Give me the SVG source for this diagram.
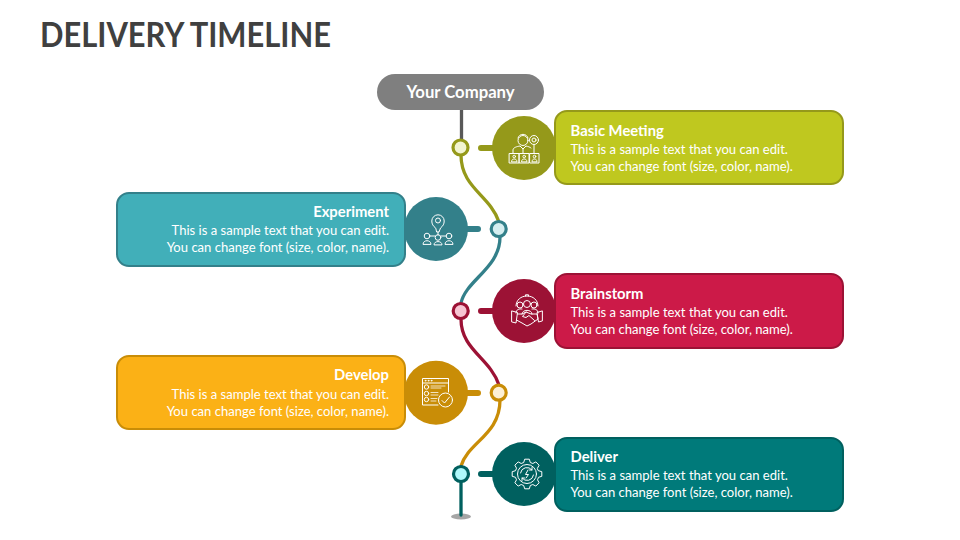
<svg xmlns="http://www.w3.org/2000/svg" width="960" height="540" viewBox="0 0 960 540">
<style>
text{font-family:"Lato","Open Sans","Liberation Sans",sans-serif;fill:#fff}
.h{font-size:14.800px;font-weight:700}
.b{font-size:13.050px}
.r{text-anchor:end}
.card{stroke-width:2}
.ic{fill:none;stroke:#fff;stroke-width:1;stroke-linecap:round;stroke-linejoin:round}
.dot{stroke-width:3.200}
.ln{fill:none;stroke-width:3.300;stroke-linecap:round}
</style>
<rect width="960" height="540" fill="#fff"/>
<text x="40" y="46.500" font-size="34" font-weight="700" textLength="291" lengthAdjust="spacingAndGlyphs" style="fill:#404040">DELIVERY TIMELINE</text>
<g id="connectors">
<path class="ln" stroke="#595959" d="M461.500 110V140"/>
<path class="ln" stroke="#95991a" d="M461 155C461 188 490 195 499 222"/>
<path class="ln" stroke="#33808a" d="M500 237C500 268 466 280 461 303"/>
<path class="ln" stroke="#9c1235" d="M461 319C461 350 490 358 499 385"/>
<path class="ln" stroke="#c98d07" d="M500 400C500 435 468 442 461 466"/>
<ellipse cx="461" cy="516.500" rx="10" ry="3" fill="#a6a6a6"/>
<path class="ln" stroke="#00605f" d="M461 482V515"/>
</g>
<g id="your-company">
<rect x="377" y="74" width="167" height="36" rx="18" fill="#7f7f7f"/>
<text x="460.500" y="97.500" font-size="16.700" font-weight="700" text-anchor="middle">Your Company</text>
</g>
<g id="basic-meeting">
<circle class="dot" cx="460.500" cy="147.500" r="7.500" fill="#f2f4d0" stroke="#95991a"/>
<path fill="#95991a" d="M481 145H494C496 145 497 144 498 142.500L498 153.500C497 152 496 151 494 151H481A3 3 0 0 1 481 145Z"/>
<circle cx="524" cy="148" r="32" fill="#95991a"/>
<rect class="card" x="555" y="111" width="288" height="73" rx="12" fill="#bfc81f" stroke="#95991a"/>
<g class="ic">
<circle cx="523" cy="140.500" r="5"/><path d="M518 138C519 133 527 133 528 138"/><path d="M513 153V150C513 147.500 517 146.500 520 146L523 149L526 146C528 146.500 530 147 531 148"/><path d="M523 149V153"/>
<circle cx="534" cy="140" r="4.500"/><circle cx="534" cy="140" r="2"/><path d="M534 145V153"/>
<rect x="509.500" y="153.500" width="9.500" height="9.500"/><rect x="519.500" y="153.500" width="9.500" height="9.500"/><rect x="530" y="153.500" width="9" height="9.500"/>
<circle cx="514.200" cy="156.500" r="1.300"/><circle cx="524.200" cy="156.500" r="1.300"/><circle cx="534.500" cy="156.500" r="1.300"/>
<path d="M511.500 161.500C511.500 158 517 158 517 161.500ZM521.500 161.500C521.500 158 527 158 527 161.500ZM532 161.500C532 158 537 158 537 161.500Z"/>
</g>
<text class="h" x="570.500" y="136">Basic Meeting</text>
<text class="b" x="570.500" y="154">This is a sample text that you can edit.</text>
<text class="b" x="570.500" y="171">You can change font (size, color, name).</text>
</g>
<g id="experiment">
<circle class="dot" cx="498.700" cy="229" r="7.500" fill="#d5eef0" stroke="#33808a"/>
<path fill="#33808a" d="M478 226H465C463 226 462 225 461 223.500L461 234.500C462 233 463 232 465 232H478A3 3 0 0 0 478 226Z"/>
<circle cx="436" cy="229" r="32" fill="#33808a"/>
<rect class="card" x="117" y="193" width="288" height="73" rx="12" fill="#41afb9" stroke="#33808a"/>
<g class="ic">
<path d="M435.500 228C433 226 431.800 224 431.800 221A6.200 6.200 0 0 1 444.200 221C444.200 224 443 226 440.500 228L439 232H437Z"/>
<circle cx="438" cy="220.500" r="2.500"/><path d="M438 232V235"/>
<circle cx="427" cy="236" r="2.800"/><circle cx="438" cy="237.500" r="2.800"/><circle cx="449" cy="236" r="2.800"/>
<path d="M423 244C423 239.500 431 239.500 431 244ZM434 244.500C434 240.500 442 240.500 442 244.500ZM445 244C445 239.500 453 239.500 453 244Z"/>
<path d="M430 236H435M441 236H446"/>
</g>
<text class="h r" x="389" y="217">Experiment</text>
<text class="b r" x="389" y="235">This is a sample text that you can edit.</text>
<text class="b r" x="389" y="252">You can change font (size, color, name).</text>
</g>
<g id="brainstorm">
<circle class="dot" cx="460.700" cy="311" r="7.500" fill="#f7c5d3" stroke="#9c1235"/>
<path fill="#9c1235" d="M481 308H494C496 308 497 307 498 305.500L498 316.500C497 315 496 314 494 314H481A3 3 0 0 1 481 308Z"/>
<circle cx="524" cy="311" r="32" fill="#9c1235"/>
<rect class="card" x="555" y="274" width="288" height="74" rx="12" fill="#cc1a48" stroke="#9c1235"/>
<g class="ic">
<path d="M516 306C516 300 521 296 527 296C533 296 538 300 538 306"/><path d="M525.500 296V294.800H528.500V296"/>
<circle cx="527" cy="304" r="3.500"/><circle cx="520" cy="305" r="3"/><circle cx="534" cy="305" r="3"/>
<path d="M522 314C522 309 532 309 532 314M516 313C516 309.500 519 308.500 522 309M538 313C538 309.500 535 308.500 532 309"/>
<path d="M512 311L517.500 312.500L516 323L512 322ZM542 311L537 312.500L538.500 322L542 321Z"/>
<path d="M517.500 314H522L526 312L531 314H537L538 319L531 324L527 326L522 323L516.500 320"/>
<path d="M526 312L522.500 316.500L526 317.500L529 315.500L534.500 320.500"/>
</g>
<text class="h" x="570.500" y="299">Brainstorm</text>
<text class="b" x="570.500" y="317">This is a sample text that you can edit.</text>
<text class="b" x="570.500" y="334">You can change font (size, color, name).</text>
</g>
<g id="develop">
<circle class="dot" cx="498.700" cy="392.700" r="7.500" fill="#fdf0d5" stroke="#c98d07"/>
<path fill="#c98d07" d="M478 390H465C463 390 462 389 461 387.500L461 398.500C462 397 463 396 465 396H478A3 3 0 0 0 478 390Z"/>
<circle cx="436" cy="392.700" r="32" fill="#c98d07"/>
<rect class="card" x="117" y="356" width="288" height="73" rx="12" fill="#fbb116" stroke="#c98d07"/>
<g class="ic">
<path d="M438 405H422.500V378.500H448.500V392"/><path d="M422.500 383H448.500"/>
<circle cx="425.500" cy="380.700" r=".4"/><circle cx="428.500" cy="380.700" r=".4"/><circle cx="431.500" cy="380.700" r=".4"/>
<circle cx="426.500" cy="387" r="2.200"/><circle cx="426.500" cy="393.500" r="2.200"/><circle cx="426.500" cy="399.500" r="2.200"/>
<path d="M431 386H445M431 388H441M431 392.500H438M431 395H438M431 398.500H437M431 401H436" opacity=".75"/>
<circle cx="445.500" cy="400" r="7"/><path d="M442 400.500L444.500 403L449.500 397"/>
</g>
<text class="h r" x="389" y="380">Develop</text>
<text class="b r" x="389" y="399">This is a sample text that you can edit.</text>
<text class="b r" x="389" y="416">You can change font (size, color, name).</text>
</g>
<g id="deliver">
<circle class="dot" cx="461" cy="474" r="7.500" fill="#aff9fb" stroke="#00605f"/>
<path fill="#00605f" d="M481 471H494C496 471 497 470 498 468.500L498 479.500C497 478 496 477 494 477H481A3 3 0 0 1 481 471Z"/>
<circle cx="524" cy="474" r="32" fill="#00605f"/>
<rect class="card" x="555" y="438" width="288" height="73" rx="12" fill="#007a7a" stroke="#00605f"/>
<g class="ic" transform="translate(527 474)">
<path d="M11.500-3.300L14.800-2.300V2.300L11.500 3.300L10.500 5.800L12.100 8.800L8.800 12.100L5.800 10.500L3.300 11.500L2.300 14.800H-2.300L-3.300 11.500L-5.800 10.500L-8.800 12.100L-12.100 8.800L-10.500 5.800L-11.500 3.300L-14.800 2.300V-2.300L-11.500-3.300L-10.500-5.800L-12.100-8.800L-8.800-12.100L-5.800-10.500L-3.300-11.500L-2.300-14.800H2.300L3.300-11.500L5.800-10.500L8.800-12.100L12.100-8.800L10.500-5.800Z"/>
<circle r="9.500"/>
<path d="M-6.500-1A6.500 6.500 0 0 1 5-4M6.500 1A6.500 6.500 0 0 1-5 4"/>
<path d="M5-6.500V-4H2.500M-5 6.500V4H-2.500"/>
<path d="M1-4L-1.500 .5H1.500L-1 4"/>
</g>
<text class="h" x="570.500" y="462">Deliver</text>
<text class="b" x="570.500" y="480">This is a sample text that you can edit.</text>
<text class="b" x="570.500" y="497">You can change font (size, color, name).</text>
</g>
</svg>
